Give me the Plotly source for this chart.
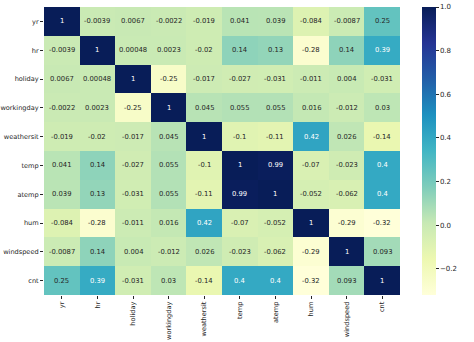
import plotly.graph_objects as go
import numpy as np

labels = ["yr", "hr", "holiday", "workingday", "weathersit", "temp", "atemp", "hum", "windspeed", "cnt"]

row_yr = [1, -0.0039, 0.0067, -0.0022, -0.019, 0.041, 0.039, -0.084, -0.0087, 0.25]
row_hr = [-0.0039, 1, 0.00048, 0.0023, -0.02, 0.14, 0.13, -0.28, 0.14, 0.39]
row_holiday = [0.0067, 0.00048, 1, -0.25, -0.017, -0.027, -0.031, -0.011, 0.004, -0.031]
row_workingday = [-0.0022, 0.0023, -0.25, 1, 0.045, 0.055, 0.055, 0.016, -0.012, 0.03]
row_weathersit = [-0.019, -0.02, -0.017, 0.045, 1, -0.1, -0.11, 0.42, 0.026, -0.14]
row_temp = [0.041, 0.14, -0.027, 0.055, -0.1, 1, 0.99, -0.07, -0.023, 0.4]
row_atemp = [0.039, 0.13, -0.031, 0.055, -0.11, 0.99, 1, -0.052, -0.062, 0.4]
row_hum = [-0.084, -0.28, -0.011, 0.016, 0.42, -0.07, -0.052, 1, -0.29, -0.32]
row_windspeed = [-0.0087, 0.14, 0.004, -0.012, 0.026, -0.023, -0.062, -0.29, 1, 0.093]
row_cnt = [0.25, 0.39, -0.031, 0.03, -0.14, 0.4, 0.4, -0.32, 0.093, 1]

z = [row_yr, row_hr, row_holiday, row_workingday, row_weathersit,
     row_temp, row_atemp, row_hum, row_windspeed, row_cnt]

cb_ticks = [-0.2, 0.0, 0.2, 0.4, 0.6, 0.8, 1.0]

ylgnbu = ["#ffffd9", "#edf8b1", "#c7e9b4", "#7fcdbb", "#41b6c4",
          "#1d91c0", "#225ea8", "#253494", "#081d58"]
colorscale = [[i / (len(ylgnbu) - 1), c] for i, c in enumerate(ylgnbu)]

zmin = min(min(r) for r in z)
zmax = 1.0

def hex2rgb(h):
    h = h.lstrip("#")
    return [int(h[i:i + 2], 16) / 255 for i in (0, 2, 4)]

stops = np.array([hex2rgb(c) for c in ylgnbu])
pos = np.linspace(0, 1, len(ylgnbu))

def color_at(v):
    t = (v - zmin) / (zmax - zmin)
    return [np.interp(t, pos, stops[:, k]) for k in range(3)]

def lum(rgb):
    c = [x / 12.92 if x <= 0.03928 else ((x + 0.055) / 1.055) ** 2.4 for x in rgb]
    return 0.2126 * c[0] + 0.7152 * c[1] + 0.0722 * c[2]

dark = "rgb(38,38,38)"

fig = go.Figure(go.Heatmap(
    z=z, x=labels, y=labels, colorscale=colorscale, zmin=zmin, zmax=zmax,
    colorbar=dict(
        x=1.062, xanchor="left", thickness=14, len=1, y=0.5, yanchor="middle",
        xpad=0, ypad=0,
        outlinewidth=0, tickvals=cb_ticks, tickformat=".1f",
        ticks="outside", ticklen=3, tickcolor=dark,
        tickfont=dict(family="DejaVu Sans", size=7, color=dark),
    ),
    hoverinfo="skip",
))

annotations = []
for i, r in enumerate(z):
    for j, v in enumerate(r):
        col = dark if lum(color_at(v)) > 0.408 else "white"
        annotations.append(dict(
            x=labels[j], y=labels[i], text=format(v, ".2g"), showarrow=False,
            font=dict(family="DejaVu Sans", size=6.8, color=col),
        ))

fig.update_layout(
    width=474, height=342,
    margin=dict(l=44, r=74, t=7, b=47),
    paper_bgcolor="white", plot_bgcolor="white",
    annotations=annotations,
    xaxis=dict(tickangle=-90, ticks="outside", ticklen=3, tickcolor=dark,
               tickfont=dict(family="DejaVu Sans", size=6.6, color=dark),
               showgrid=False, zeroline=False, automargin=False),
    yaxis=dict(autorange="reversed", ticks="outside", ticklen=3, tickcolor=dark,
               tickfont=dict(family="DejaVu Sans", size=6.6, color=dark),
               showgrid=False, zeroline=False, automargin=False),
)

fig.write_html("out.html")
